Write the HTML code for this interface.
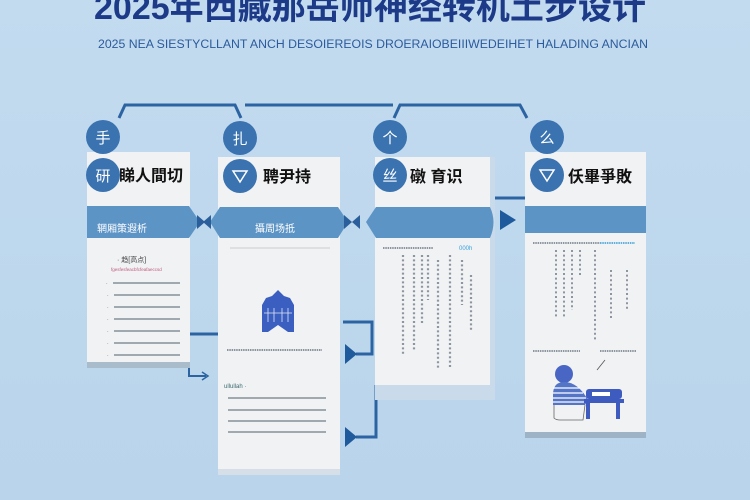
<!DOCTYPE html>
<html><head><meta charset="utf-8"><style>
html,body{margin:0;padding:0}
body{width:750px;height:500px;overflow:hidden;background:#bdd7ec;font-family:"Liberation Sans","Noto Sans CJK SC",sans-serif}
svg{display:block}
</style></head><body>
<svg width="750" height="500" viewBox="0 0 750 500" xmlns="http://www.w3.org/2000/svg" font-family="Liberation Sans, Noto Sans CJK SC, sans-serif">
<defs>
<linearGradient id="bg" x1="0" y1="0" x2="0" y2="1"><stop offset="0" stop-color="#c3dbef"/><stop offset="1" stop-color="#b9d4eb"/></linearGradient>
</defs>
<rect width="750" height="500" fill="url(#bg)"/>
<text x="370" y="19" text-anchor="middle" font-size="34" font-weight="bold" fill="#1c3a88" textLength="552" lengthAdjust="spacingAndGlyphs">2025年西藏那岳师神经转机土步设计</text>
<text x="373" y="48" text-anchor="middle" font-size="11.5" fill="#2b5b9d" textLength="550" lengthAdjust="spacingAndGlyphs">2025 NEA SIESTYCLLANT ANCH DESOIEREOIS DROERAIOBEIIIWEDEIHET HALADING ANCIAN</text>

<g stroke="#2c64a3" stroke-width="3" fill="none">
<path d="M119 118 L125 105 L235 105 L241 118"/>
<path d="M245 105 L393 105"/>
<path d="M394 118 L400 105 L520 105 L527 118"/>
<path d="M490 198 L525 198"/>
<path d="M190 334 L219 334"/>
<path d="M189 363 L189 376 L206 376" stroke-width="2"/>
<path d="M343 322 L372 322 L372 354 L356 354"/>
<path d="M376 385 L376 437 L356 437"/>
</g>
<path d="M202 372 L208 376 L202 380" stroke="#2c64a3" stroke-width="1.5" fill="none"/>
<polygon points="345,344 357,354 345,364" fill="#1f5a9c"/>
<polygon points="345,427 357,437 345,447" fill="#1f5a9c"/>
<polygon points="500,210 516,220 500,230" fill="#1f5a9c"/>

<!-- Card 1 -->
<rect x="87" y="152" width="103" height="216" fill="#a9bccc"/>
<rect x="87" y="152" width="103" height="210" fill="#f1f2f4"/>
<polygon points="87,206 189,206 200,222 189,238 87,238" fill="#5d94c6"/>
<text x="97" y="232" font-size="10" fill="#fff">辋厢策遐析</text>
<text x="117" y="262" font-size="7" fill="#444">· 趋[高点]</text>
<text x="111" y="271" font-size="4.5" fill="#c05a7a">fgesfesfeacbfcfeafaeccsd</text>
<g stroke="#6f7b86" stroke-width="1.3">
<line x1="113" y1="283" x2="180" y2="283"/><line x1="114" y1="295" x2="180" y2="295"/>
<line x1="114" y1="307" x2="180" y2="307"/><line x1="114" y1="319" x2="180" y2="319"/>
<line x1="114" y1="331" x2="180" y2="331"/><line x1="114" y1="343" x2="180" y2="343"/>
<line x1="114" y1="355" x2="180" y2="355"/>
</g>
<g fill="#555" font-size="5"><text x="106" y="285">·</text><text x="107" y="297">·</text><text x="107" y="309">·</text><text x="107" y="321">·</text><text x="107" y="333">·</text><text x="107" y="345">·</text><text x="107" y="357">·</text></g>

<!-- Card 2 -->
<rect x="218" y="157" width="122" height="318" fill="#d6dfe8"/>
<rect x="218" y="157" width="122" height="312" fill="#f1f2f4"/>
<polygon points="210,222 220,207 338,207 348,222 338,238 220,238" fill="#5d94c6"/>
<text x="255" y="232" font-size="10" fill="#fff">攝周场抵</text>
<line x1="230" y1="248" x2="330" y2="248" stroke="#ccc"/>
<g fill="#3a5fc0">
<rect x="262" y="305" width="32" height="27"/>
<polygon points="262,305 266,298 272,296 278,290 284,296 290,298 294,305"/>
<polygon points="268,332 278,325 288,332" fill="#f1f2f4"/>
</g>
<g stroke="#dfe6f5" stroke-width="0.8"><line x1="268" y1="308" x2="268" y2="322"/><line x1="274" y1="308" x2="274" y2="322"/><line x1="282" y1="308" x2="282" y2="322"/><line x1="288" y1="308" x2="288" y2="322"/><line x1="264" y1="313" x2="292" y2="313"/></g>
<line x1="227" y1="350" x2="322" y2="350" stroke="#8a949e" stroke-width="2" stroke-dasharray="1.5 0.8"/>
<text x="224" y="388" font-size="6" fill="#3a6a70">ullullah ·</text>
<g stroke="#6f7b86" stroke-width="1.3">
<line x1="228" y1="398" x2="326" y2="398"/><line x1="228" y1="410" x2="326" y2="410"/>
<line x1="228" y1="421" x2="326" y2="421"/><line x1="228" y1="432" x2="326" y2="432"/>
</g>

<!-- Card 3 -->
<rect x="375" y="157" width="120" height="243" fill="#c9dbeb"/>
<rect x="375" y="157" width="115" height="228" fill="#f1f2f4"/>
<path d="M366,222 L376,207 L490,207 Q497,222 490,238 L376,238 Z" fill="#5d94c6"/>
<line x1="383" y1="248" x2="433" y2="248" stroke="#8d96a0" stroke-width="2" stroke-dasharray="1.5 0.8"/>
<text x="459" y="250" font-size="6" fill="#3aa0dc">000h</text>
<g stroke="#8d96a0" stroke-width="2.2" stroke-dasharray="2 2.4">
<line x1="403" y1="255" x2="403" y2="355"/><line x1="414" y1="255" x2="414" y2="350"/>
<line x1="422" y1="255" x2="422" y2="325"/><line x1="428" y1="255" x2="428" y2="300"/>
<line x1="438" y1="260" x2="438" y2="368"/><line x1="450" y1="255" x2="450" y2="368"/>
<line x1="462" y1="260" x2="462" y2="305"/><line x1="471" y1="275" x2="471" y2="330"/>
</g>

<!-- Card 4 -->
<rect x="525" y="152" width="121" height="286" fill="#9eb3c6"/>
<rect x="525" y="152" width="121" height="280" fill="#f1f2f4"/>
<rect x="525" y="206" width="121" height="27" fill="#5d94c6"/>
<line x1="533" y1="243" x2="600" y2="243" stroke="#8d96a0" stroke-width="2" stroke-dasharray="1.5 0.8"/>
<line x1="600" y1="243" x2="635" y2="243" stroke="#5fb0dc" stroke-width="2" stroke-dasharray="1.5 0.8"/>
<g stroke="#8d96a0" stroke-width="2" stroke-dasharray="2 2.6">
<line x1="556" y1="250" x2="556" y2="318"/><line x1="564" y1="250" x2="564" y2="318"/>
<line x1="572" y1="250" x2="572" y2="310"/><line x1="580" y1="250" x2="580" y2="275"/>
<line x1="595" y1="250" x2="595" y2="342"/><line x1="611" y1="270" x2="611" y2="318"/>
<line x1="627" y1="270" x2="627" y2="310"/>
</g>
<line x1="533" y1="351" x2="580" y2="351" stroke="#8d96a0" stroke-width="2" stroke-dasharray="1.5 0.8"/>
<line x1="600" y1="351" x2="636" y2="351" stroke="#8d96a0" stroke-width="2" stroke-dasharray="1.5 0.8"/>
<line x1="597" y1="370" x2="605" y2="360" stroke="#555" stroke-width="0.8"/>
<circle cx="564" cy="374" r="9" fill="#4a66c4"/>
<path d="M553 395 Q553 382 564 382 Q578 382 588 400 L585 405 L553 405 Z" fill="#5474c8"/>
<g stroke="#fff" stroke-width="1.2"><line x1="553" y1="388" x2="580" y2="388"/><line x1="553" y1="393" x2="583" y2="393"/><line x1="553" y1="398" x2="586" y2="398"/><line x1="553" y1="402" x2="586" y2="402"/></g>
<path d="M554 405 L554 418 Q556 420 560 420 L583 420 L585 405" fill="none" stroke="#666" stroke-width="0.8"/>
<rect x="586" y="389" width="36" height="10" rx="3" fill="#3e5cc0"/>
<rect x="592" y="392" width="18" height="4" fill="#fff"/>
<rect x="584" y="399" width="40" height="4" fill="#3e5cc0"/>
<rect x="586" y="403" width="4" height="16" fill="#3e5cc0"/><rect x="616" y="403" width="4" height="16" fill="#3e5cc0"/>

<g fill="#2a5f9c">
<polygon points="197,215 205,222 197,229"/><polygon points="211,215 203,222 211,229"/>
<polygon points="344,215 352,222 344,229"/><polygon points="360,215 352,222 360,229"/>
</g>

<g font-size="16" fill="#111" font-weight="bold">
<text x="119" y="181">睇人間切</text>
<text x="263" y="182">聘尹持</text>
<text x="410" y="182">礅 育识</text>
<text x="568" y="182">仸畢爭敗</text>
</g>

<g fill="#3a73b0">
<circle cx="103" cy="137" r="17"/><circle cx="103" cy="175" r="17"/>
<circle cx="240" cy="138" r="17"/><circle cx="240" cy="176" r="17"/>
<circle cx="390" cy="137" r="17"/><circle cx="390" cy="175" r="17"/>
<circle cx="547" cy="137" r="17"/><circle cx="547" cy="175" r="17"/>
</g>
<g fill="#fff" font-size="15" text-anchor="middle">
<text x="103" y="143">手</text><text x="103" y="181">研</text>
<text x="240" y="144">扎</text>
<text x="390" y="143">个</text><text x="390" y="181">丝</text>
<text x="547" y="143">么</text>
</g>
<g fill="none" stroke="#fff" stroke-width="1.5">
<path d="M233 171 L247 171 L240 182 Z"/>
<path d="M540 170 L554 170 L547 181 Z"/>
</g>
</svg>
</body></html>
